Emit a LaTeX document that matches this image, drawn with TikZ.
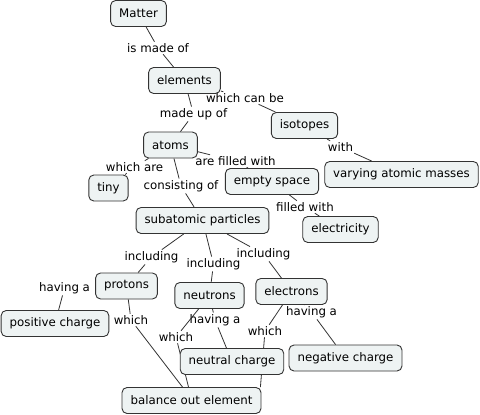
\documentclass[tikz,border=0pt]{standalone}
\usepackage{fontspec}
\setmainfont{DejaVu Sans}
\usepackage{tikz}
\definecolor{cfill}{HTML}{EEF3F3}
\definecolor{cline}{HTML}{333333}

\begin{document}
\begin{tikzpicture}[x=1pt, y=-1pt,
        concept/.style={rectangle, rounded corners=5pt, draw=cline, fill=cfill,
                        line width=0.9pt, minimum height=26pt, inner xsep=8.5pt,
                        font=\fontsize{11.8}{13}\selectfont},
        phrase/.style={inner sep=1.5pt, font=\fontsize{11.8}{13}\selectfont},
        link/.style={draw=cline, line width=0.8pt}]
      \useasboundingbox[fill=white] (0,0) rectangle (480,415);
      % concepts
      \node[concept] (matter)   at (138.5, 13.5)  {Matter};
      \node[concept] (elements) at (184.5, 80.5)  {elements};
      \node[concept] (isotopes) at (304.5, 125.5) {isotopes};
      \node[concept] (atoms)    at (170.5, 145)   {atoms};
      \node[concept] (tiny)     at (108.5, 188)   {tiny};
      \node[concept] (empty)    at (272, 181.5)   {empty space};
      \node[concept] (masses)   at (401.5, 174.5) {varying atomic masses};
      \node[concept] (subatom)  at (202.5, 220.5) {subatomic particles};
      \node[concept] (electric) at (340.5, 229.5) {electricity};
      \node[concept] (protons)  at (126.5, 286)   {protons};
      \node[concept] (neutrons) at (209.5, 295.5) {neutrons};
      \node[concept] (electrons) at (291.5, 291.5) {electrons};
      \node[concept] (poscharge) at (55, 323.5)   {positive charge};
      \node[concept] (negcharge) at (345.5, 358)  {negative charge};
      \node[concept] (balance)  at (191.5, 400.5) {balance out element};
      % linking phrases
      \node[phrase] (madeof)    at (158, 48)    {is made of};
      \node[phrase] (canbe)     at (245, 98)    {which can be};
      \node[phrase] (madeup)    at (193.5, 114) {made up of};
      \node[phrase] (with)      at (340.5, 147) {with};
      \node[phrase] (whichare)  at (134.5, 167) {which are};
      \node[phrase] (arefilled) at (235.5, 161) {are filled with};
      \node[phrase] (consist)   at (181, 186)   {consisting of};
      \node[phrase] (filled)    at (305, 207)   {filled with};
      \node[phrase] (inclP)     at (151.5, 257) {including};
      \node[phrase] (inclN)     at (213.5, 264) {including};
      \node[phrase] (inclE)     at (263.5, 254) {including};
      \node[phrase] (haveP)     at (64.5, 288)  {having a};
      \node[phrase] (whichP)    at (131, 320)   {which};
      \node[phrase] (haveN)     at (215, 320)   {having a};
      \node[phrase] (whichN)    at (176, 337)   {which};
      \node[phrase] (whichE)    at (265, 331)   {which};
      \node[phrase] (haveE)     at (311.5, 312) {having a};
      % these pass behind the neutral charge box
      \draw[link] (protons) -- (whichP) -- ([xshift=-9pt]balance.north);
      \draw[link] (neutrons) -- (whichN) -- ([xshift=-3pt]balance.north);
      \draw[link] (electrons) -- (whichE) -- ([xshift=-1pt]balance.north east);
      \node[concept] (neucharge) at (232, 361.5)  {neutral charge};
      % links
      \draw[link] (matter) -- (madeof) -- (elements);
      \draw[link] (elements) -- (canbe) -- (isotopes);
      \draw[link] (elements) -- (madeup) -- (atoms);
      \draw[link] (isotopes) -- (with) -- (masses);
      \draw[link] (atoms) -- (whichare) -- (tiny);
      \draw[link] (atoms) -- (arefilled) -- (empty);
      \draw[link] (atoms) -- (consist) -- (subatom);
      \draw[link] (empty) -- (filled) -- (electric);
      \draw[link] (subatom) -- (inclP) -- (protons);
      \draw[link] (subatom) -- (inclN) -- (neutrons);
      \draw[link] (subatom) -- (inclE) -- (electrons);
      \draw[link] (haveP) -- (poscharge);
      \draw[link] (neutrons) -- (haveN) -- (neucharge);
      \draw[link] (electrons) -- (haveE) -- (negcharge);
\end{tikzpicture}
\end{document}
